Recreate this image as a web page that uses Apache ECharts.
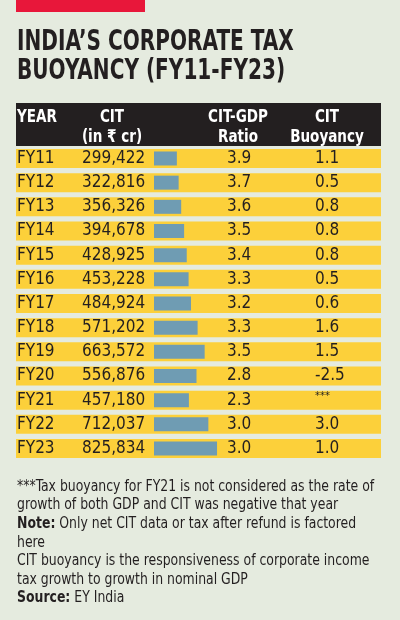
<!DOCTYPE html>
<html>
<head>
<meta charset="utf-8">
<script src="https://cdn.jsdelivr.net/npm/echarts@6/dist/echarts.min.js"></script>
<style>
  html, body { margin: 0; padding: 0; background: #e5ebdf; }
  #chart { width: 400px; height: 620px; }
</style>
</head>
<body>
<div id="chart"></div>
<script>
// table data
var years = ['FY11', 'FY12', 'FY13', 'FY14', 'FY15', 'FY16', 'FY17', 'FY18', 'FY19', 'FY20', 'FY21', 'FY22', 'FY23'];
var cit = [299422, 322816, 356326, 394678, 428925, 453228, 484924, 571202, 663572, 556876, 457180, 712037, 825834];
var citGdpRatio = [3.9, 3.7, 3.6, 3.5, 3.4, 3.3, 3.2, 3.3, 3.5, 2.8, 2.3, 3.0, 3.0];
var buoyancy = [1.1, 0.5, 0.8, 0.8, 0.8, 0.5, 0.6, 1.6, 1.5, -2.5, null, 3.0, 1.0];

var FONT = '"Liberation Sans Narrow", "DejaVu Sans Condensed", sans-serif';
var INK = '#231f20';

var myChart = echarts.init(document.getElementById('chart'));

var rowLabel = function (p) {
    var i = p.dataIndex;
    var b = buoyancy[i] === null ? '{ast|***}' : '{b|' + buoyancy[i].toFixed(1) + '}';
    return '{y|' + years[i] + '}{c|' + cit[i].toLocaleString('en-US') + '}{g| }{r|' +
        citGdpRatio[i].toFixed(1) + '}' + b;
};

var cell = { fontFamily: FONT, fontSize: 17, color: INK };

// header cells, squeezed a bit to look like the condensed newspaper face
var head = function (x, txt, align) {
    return {
        type: 'text', x: x, y: 107, scaleX: 0.86,
        style: { text: txt, font: 'bold 17.5px ' + FONT, fill: '#fff', align: align, lineHeight: 20 }
    };
};

option = {
    backgroundColor: '#e5ebdf',
    grid: [
        { left: 16, width: 365, top: 146.4, bottom: 159.4 },
        { left: 154, width: 229, top: 146.4, bottom: 159.4 }
    ],
    xAxis: [
        { gridIndex: 0, type: 'value', min: 0, max: 1, show: false },
        { gridIndex: 1, type: 'value', min: 0, max: 3000000, show: false }
    ],
    yAxis: [
        { gridIndex: 0, type: 'category', data: years, inverse: true, show: false },
        { gridIndex: 1, type: 'category', data: years, inverse: true, show: false }
    ],
    series: [
        {
            name: 'row',
            type: 'bar',
            xAxisIndex: 0,
            yAxisIndex: 0,
            silent: true,
            barWidth: 19,
            data: years.map(function () { return 1; }),
            itemStyle: { color: '#fcd03a' },
            label: {
                show: true,
                position: 'insideLeft',
                distance: 1,
                formatter: rowLabel,
                rich: {
                    y: Object.assign({ width: 65 }, cell),
                    c: Object.assign({ width: 62 }, cell),
                    g: Object.assign({ width: 83 }, cell),
                    r: Object.assign({ width: 88 }, cell),
                    b: Object.assign({}, cell),
                    ast: { fontFamily: FONT, fontSize: 11, color: INK, padding: [0, 0, 8, 0] }
                }
            }
        },
        {
            name: 'CIT',
            type: 'bar',
            xAxisIndex: 1,
            yAxisIndex: 1,
            silent: true,
            barWidth: 14,
            data: cit,
            itemStyle: { color: '#6f9cb3' }
        }
    ],
    graphic: [
        { type: 'rect', x: 16, y: 0, shape: { width: 129, height: 12 }, style: { fill: '#e8173a' } },
        {
            type: 'text', x: 17, y: 28, scaleX: 0.77,
            style: {
                text: 'INDIA’S CORPORATE TAX\nBUOYANCY (FY11-FY23)',
                font: 'bold 29px ' + FONT, fill: INK, lineHeight: 29
            }
        },
        { type: 'rect', x: 16, y: 103, shape: { width: 365, height: 43 }, style: { fill: '#231f20' } },
        head(17, 'YEAR', 'left'),
        head(112, 'CIT\n(in ₹ cr)', 'center'),
        head(238, 'CIT-GDP\nRatio', 'center'),
        head(327, 'CIT\nBuoyancy', 'center'),
        {
            type: 'text', x: 17, y: 477.4, scaleX: 0.865,
            style: {
                text: '***Tax buoyancy for FY21 is not considered as the rate of\n' +
                    'growth of both GDP and CIT was negative that year\n' +
                    '{n|Note:} Only net CIT data or tax after refund is factored\n' +
                    'here\n' +
                    'CIT buoyancy is the responsiveness of corporate income\n' +
                    'tax growth to growth in nominal GDP\n' +
                    '{n|Source:} EY India',
                font: '16px ' + FONT,
                fill: INK,
                lineHeight: 18.6,
                rich: {
                    n: { fontFamily: FONT, fontWeight: 'bold', fontSize: 16, fill: INK, lineHeight: 18.6 }
                }
            }
        }
    ]
};

myChart.setOption(option);
window.addEventListener('resize', function () {
    myChart.resize();
});
</script>
</body>
</html>
